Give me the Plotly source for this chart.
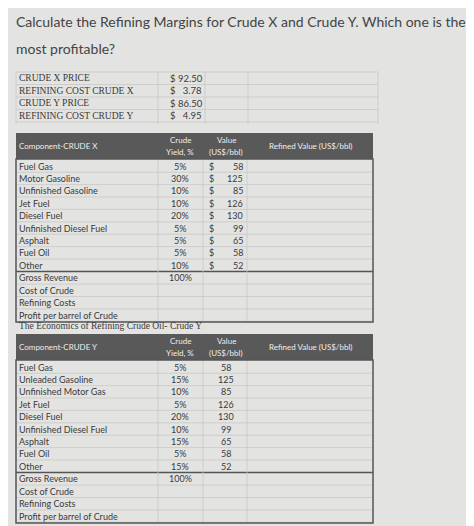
import plotly.graph_objects as go

# top price table
price_labels = ["CRUDE X PRICE", "REFINING COST CRUDE X", "CRUDE Y PRICE", "REFINING COST CRUDE Y"]
price_values = ["$ 92.50", "$   3.78", "$ 86.50", "$   4.95"]

# crude X
x_components = ["Fuel Gas", "Motor Gasoline", "Unfinished Gasoline", "Jet Fuel", "Diesel Fuel",
                "Unfinished Diesel Fuel", "Asphalt", "Fuel Oil", "Other"]
x_yield = ["5%", "30%", "10%", "10%", "20%", "5%", "5%", "5%", "10%"]
x_value = [58, 125, 85, 126, 130, 99, 65, 58, 52]

# crude Y
y_components = ["Fuel Gas", "Unleaded Gasoline", "Unfinished Motor Gas", "Jet Fuel", "Diesel Fuel",
                "Unfinished Diesel Fuel", "Asphalt", "Fuel Oil", "Other"]
y_yield = ["5%", "15%", "10%", "5%", "20%", "10%", "15%", "5%", "15%"]
y_value = [58, 125, 85, 126, 130, 99, 65, 58, 52]

summary_rows = ["Gross Revenue", "Cost of Crude", "Refining Costs", "Profit per barrel of Crude"]

BODY = "Lato"
SERIF = "Liberation Serif"
TXT = "#3a3a3a"
GRID = "#c8c8c8"
X0, C1, C2, C3, X4 = 8, 150, 195, 239, 365

fig = go.Figure()
shapes = []
ann = []


def text(x, y, s, size=9, anchor="left", font=BODY, color=TXT):
    ann.append(dict(x=x, y=y, text=s, showarrow=False, xanchor=anchor, yanchor="middle",
                    borderpad=0, font=dict(family=font, size=size, color=color)))


def line(x0, y0, x1, y1, color=GRID, w=0.8):
    shapes.append(dict(type="line", x0=x0, y0=y0, x1=x1, y1=y1, line=dict(color=color, width=w)))


# title
text(7, 13, "Calculate the Refining Margins for Crude X and Crude Y. Which one is the", size=14, color="#444")
text(7, 40, "most profitable?", size=14, color="#444")

# price table
for i in range(5):
    line(X0, 64 + i * 12.5, 370, 64 + i * 12.5)
for xx in (X0, C1, 197, 240, 370):
    line(xx, 64, xx, 116)
for i, (lab, v) in enumerate(zip(price_labels, price_values)):
    yy = 70 + i * 12.5
    text(10, yy, lab, size=9.5, font=SERIF)
    text(161, yy, v, size=9.5)


def block(top, comps, yields, values, name, dollar):
    hb = top + 26
    shapes.append(dict(type="rect", x0=X0, y0=top, x1=X4, y1=hb, fillcolor="#595959", line=dict(width=0)))
    text(10, top + 13, "Component-" + name, size=8, color="#eee")
    text(172, top + 7, "Crude", size=8, anchor="center", color="#eee")
    text(172, top + 19, "Yield, %", size=8, anchor="center", color="#eee")
    text(218, top + 7, "Value", size=8, anchor="center", color="#eee")
    text(218, top + 19, "(US$/bbl)", size=8, anchor="center", color="#eee")
    text(302, top + 13, "Refined Value (US$/bbl)", size=8, anchor="center", color="#eee")
    step = 12.4
    r0 = hb + 7
    for i, (c, yl, v) in enumerate(zip(comps, yields, values)):
        yy = r0 + i * step
        line(X0, yy + step / 2, X4, yy + step / 2)
        text(10, yy, c, size=9)
        text(172, yy, yl, size=9, anchor="center")
        if dollar:
            text(200, yy, "$", size=9)
            text(236, yy, str(v), size=9, anchor="right")
        else:
            text(218, yy, str(v), size=9, anchor="center")
    sep = r0 + 8.5 * step
    line(X0, sep, X4, sep, color="#555", w=1.5)
    for i, s in enumerate(summary_rows):
        yy = sep + 6.5 + i * step
        line(X0, yy + step / 2, X4, yy + step / 2)
        text(10, yy, s, size=9)
    text(172, sep + 6.5, "100%", size=9, anchor="center")
    bottom = sep + 4 * step + 1
    for xx in (C1, C2, C3):
        line(xx, hb, xx, bottom)
    shapes.append(dict(type="rect", x0=X0, y0=hb, x1=X4, y1=bottom, line=dict(color="#555", width=1.5)))
    return bottom


block(125, x_components, x_yield, x_value, "CRUDE X", True)
text(10, 318, "The Economics of Refining Crude Oil- Crude Y", size=9.5, font=SERIF)
block(326, y_components, y_yield, y_value, "CRUDE Y", False)

fig.update_layout(
    width=474, height=526, margin=dict(l=0, r=0, t=0, b=0),
    paper_bgcolor="#e3e3e1", plot_bgcolor="#e3e3e1",
    xaxis=dict(range=[0, 474], visible=False, fixedrange=True),
    yaxis=dict(range=[526, 0], visible=False, fixedrange=True),
    shapes=shapes, annotations=ann, showlegend=False,
)
fig.write_html("out.html")
